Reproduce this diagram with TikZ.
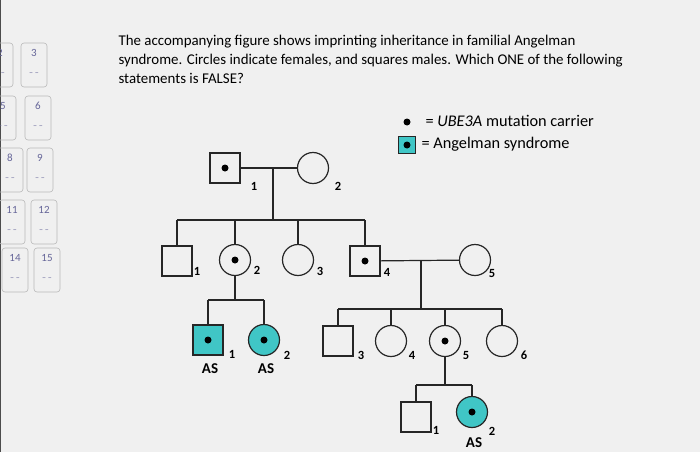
\documentclass[tikz,border=0pt]{standalone}
\usepackage{fontspec}
\setmainfont{Carlito}
\begin{document}
\begin{tikzpicture}[x=1pt,y=-1pt,
  ln/.style={line width=1.2pt,black!85},
  sq/.style={draw=black!85,line width=1.2pt,minimum size=30pt,inner sep=0pt},
  ci/.style={draw=black!85,line width=1.2pt,circle,minimum size=31pt,inner sep=0pt},
  aff/.style={fill=teal!60!cyan!75},
  dotc/.style={circle,fill=black,minimum size=7pt,inner sep=0pt},
  lbl/.style={font=\bfseries\fontsize{12.5}{12.5}\selectfont},
  card/.style={draw=gray!55,rounded corners=3pt,line width=0.6pt,minimum width=26pt,minimum height=44pt,inner sep=0pt}]
\useasboundingbox (0,0) rectangle (700,452);
\fill[gray!12] (0,0) rectangle (700,452);
\draw[black!70,line width=1.5pt] (0.5,0) -- (0.5,452);
% cards
\foreach \x/\y/\t in {0/65/2,34/65/3,3/118/5,38/118/6,10/170/8,40/170/9,12/222/11,44/222/12,15/270/14,47/270/15}{
  \node[card] (c\t) at (\x,\y) {};
  \node[font=\fontsize{11}{11}\selectfont,text=gray!80!blue] (ct\t) at (\x,\y-12) {\t};
  \node[text=gray!80!blue,font=\fontsize{8}{8}\selectfont] (cd\t) at (\x,\y+9) {-- --};
}
\node[anchor=west,font=\fontsize{14.9}{15}\selectfont,align=left] (q) at (115,59) {The accompanying figure shows imprinting inheritance in familial Angelman\\[4pt]syndrome. Circles indicate females, and squares males. Which ONE of the following\\[4pt]statements is FALSE?};
% legend
\node[dotc] (ld) at (407,122) {};
\node[anchor=west,font=\fontsize{16.3}{16}\selectfont] (lt1) at (422,121) {= \textit{UBE3A} mutation carrier};
\node[sq,aff,minimum size=17pt] (ls) at (407,145) {};
\node[dotc] at (ls) {};
\node[anchor=west,font=\fontsize{16.3}{16}\selectfont] (lt2) at (418,144) {= Angelman syndrome};
% Gen I
\node[sq] (i1) at (225,168) {}; \node[dotc] at (i1) {};
\node[ci] (i2) at (313,168) {};
\draw[ln] (i1) -- (i2);
\coordinate (m1) at (273,168);
\coordinate (s1) at (273,220);
\draw[ln] (m1) -- (s1);
\draw[ln] (177,220) -- (365,220);
% Gen II
\node[sq] (ii1) at (177,261) {};
\node[ci] (ii2) at (235,260) {}; \node[dotc] at (ii2) {};
\node[ci] (ii3) at (298,260) {};
\node[sq] (ii4) at (365,261) {}; \node[dotc] at (ii4) {};
\node[ci] (ii5) at (475,260) {};
\foreach \n in {ii1,ii2,ii3,ii4}{\draw[ln] (\n.north) -- (\n.north |- s1);}
\draw[ln] (ii4) -- (ii5);
% II2 children
\draw[ln] (ii2.south) -- (235,300);
\draw[ln] (208,300) -- (264,300);
\node[sq,aff] (iii1) at (208,340) {}; \node[dotc] at (iii1) {};
\node[ci,aff] (iii2) at (264,340) {}; \node[dotc] at (iii2) {};
\draw[ln] (iii1.north) -- (208,300);
\draw[ln] (iii2.north) -- (264,300);
% II4 children
\coordinate (m2) at (421,260);
\coordinate (s2) at (421,309);
\draw[ln] (m2) -- (s2);
\draw[ln] (338,309) -- (502,309);
\node[sq] (iii3) at (338,341) {};
\node[ci] (iii4) at (391,341) {};
\node[ci] (iii5) at (445,341) {}; \node[dotc] at (iii5) {};
\node[ci] (iii6) at (502,341) {};
\foreach \n in {iii3,iii4,iii5,iii6}{\draw[ln] (\n.north) -- (\n.north |- s2);}
% IV
\draw[ln] (iii5.south) -- (445,385);
\draw[ln] (416,385) -- (472,385);
\node[sq] (iv1) at (416,417) {};
\node[ci,aff] (iv2) at (472,412) {}; \node[dotc] at (iv2) {};
\draw[ln] (iv1.north) -- (416,385);
\draw[ln] (iv2.north) -- (472,385);
% labels
\foreach \p/\t in {{254,186}/1,{338,186}/2,{197,271}/1,{257,270}/2,{320,271}/3,{387,272}/4,{492,273}/5,
  {232,354}/1,{287,355}/2,{361,355}/3,{412,355}/4,{466,355}/5,{524,355}/6,{436,430}/1,{492,431}/2}{
  \node[lbl] at (\p) {\t};}
\node[font=\bfseries\fontsize{15}{15}\selectfont] (as1) at (210,369) {AS};
\node[font=\bfseries\fontsize{15}{15}\selectfont] (as2) at (266,369) {AS};
\node[font=\bfseries\fontsize{15}{15}\selectfont] (as3) at (474,443) {AS};
\end{tikzpicture}
\end{document}
